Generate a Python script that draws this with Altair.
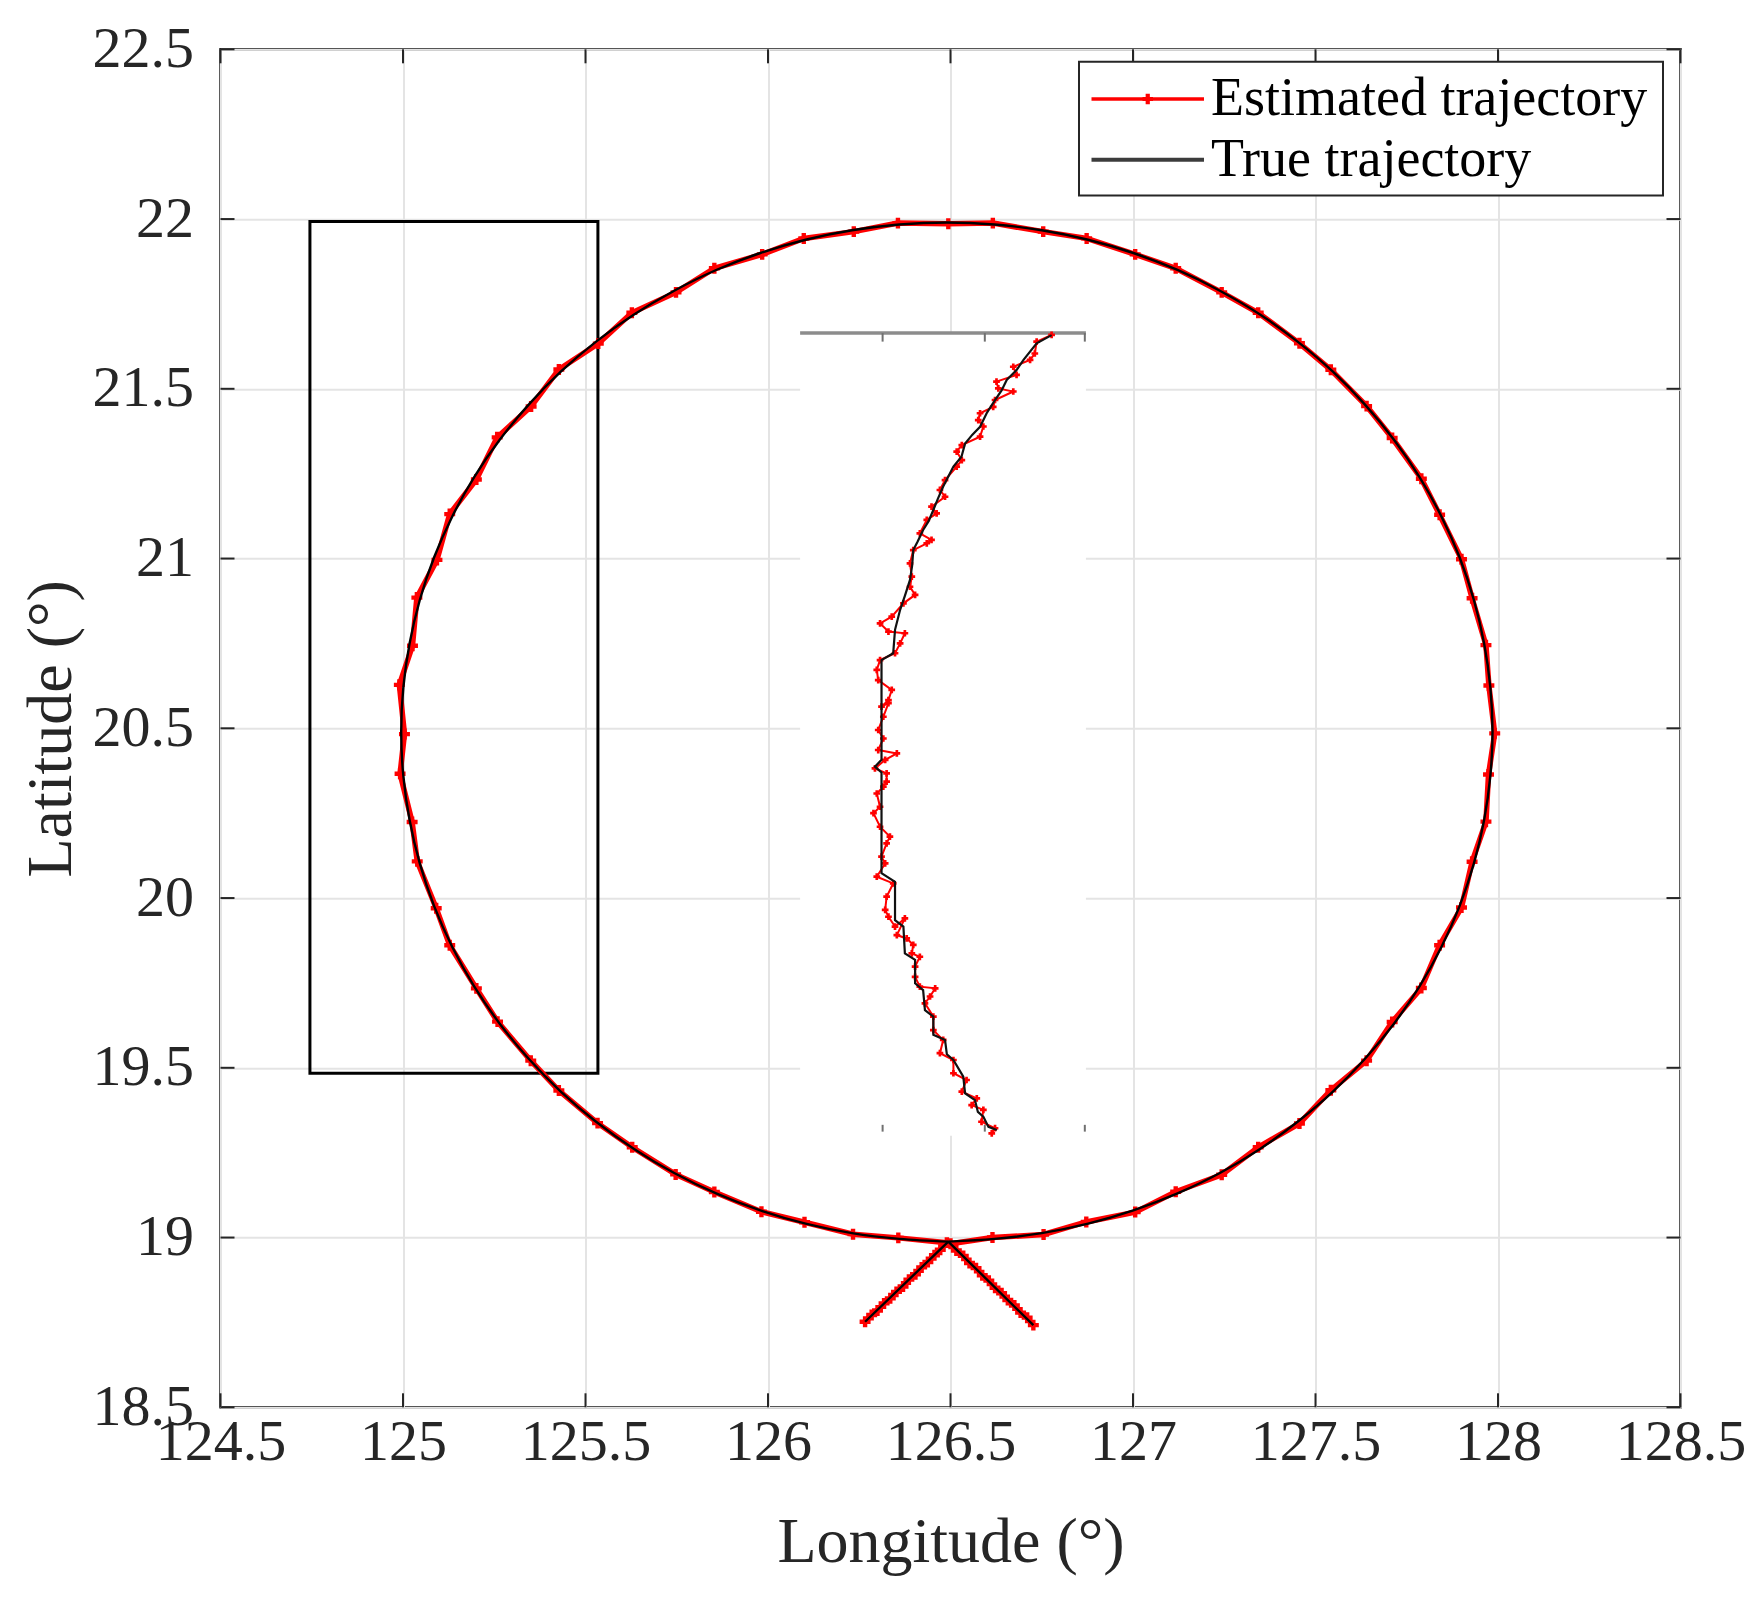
import altair as alt
import pandas as pd

FONT = "Liberation Serif"

# ---------------- data ----------------
x_ticks = [124.5, 125, 125.5, 126, 126.5, 127, 127.5, 128, 128.5]
y_ticks = [18.5, 19, 19.5, 20, 20.5, 21, 21.5, 22, 22.5]

series_names = ["Estimated trajectory", "True trajectory"]

true_lon = [126.266, 126.494,
            126.360, 126.230, 126.103, 125.979, 125.858, 125.743, 125.633, 125.529, 125.433,
            125.345, 125.265, 125.195, 125.135, 125.085, 125.046, 125.018, 125.001, 124.995,
            125.001, 125.018, 125.046, 125.085, 125.135, 125.195, 125.265, 125.345, 125.433,
            125.529, 125.633, 125.743, 125.858, 125.979, 126.103, 126.230, 126.360, 126.490,
            126.620, 126.750, 126.877, 127.001, 127.122, 127.238, 127.348, 127.451, 127.547,
            127.635, 127.715, 127.785, 127.845, 127.895, 127.934, 127.962, 127.979, 127.985,
            127.979, 127.962, 127.934, 127.895, 127.845, 127.785, 127.715, 127.635, 127.547,
            127.451, 127.348, 127.238, 127.122, 127.001, 126.877, 126.750, 126.620,
            126.494, 126.727]
true_lat = [18.752, 18.988,
            18.996, 19.013, 19.041, 19.080, 19.130, 19.190, 19.261, 19.341, 19.429,
            19.526, 19.630, 19.740, 19.856, 19.977, 20.102, 20.230, 20.359, 20.490,
            20.621, 20.750, 20.878, 21.003, 21.124, 21.240, 21.350, 21.454, 21.551,
            21.639, 21.719, 21.789, 21.850, 21.900, 21.939, 21.967, 21.984, 21.990,
            21.984, 21.967, 21.939, 21.900, 21.850, 21.789, 21.719, 21.639, 21.551,
            21.454, 21.350, 21.240, 21.124, 21.003, 20.878, 20.750, 20.621, 20.490,
            20.359, 20.230, 20.102, 19.977, 19.856, 19.740, 19.630, 19.526, 19.429,
            19.341, 19.261, 19.190, 19.130, 19.080, 19.041, 19.013, 18.996,
            18.988, 18.742]

est_lon = [126.266, 126.284, 126.300, 126.318, 126.335, 126.352, 126.370, 126.386, 126.404,
           126.421, 126.438, 126.456, 126.472, 126.490,
           126.357, 126.233, 126.100, 125.982, 125.853, 125.747, 125.628, 125.533, 125.427,
           125.350, 125.259, 125.201, 125.128, 125.091, 125.039, 125.025, 124.992, 125.004,
           124.990, 125.026, 125.038, 125.093, 125.128, 125.201, 125.258, 125.351, 125.427,
           125.535, 125.627, 125.748, 125.853, 125.984, 126.098, 126.235, 126.356, 126.494,
           126.616, 126.754, 126.873, 127.006, 127.117, 127.243, 127.343, 127.456, 127.542,
           127.640, 127.710, 127.790, 127.840, 127.900, 127.929, 127.967, 127.975, 127.991,
           127.974, 127.967, 127.929, 127.900, 127.840, 127.790, 127.710, 127.640, 127.542,
           127.456, 127.343, 127.243, 127.117, 127.006, 126.872, 126.755, 126.615,
           126.500, 126.516, 126.535, 126.552, 126.570, 126.587, 126.605, 126.622, 126.640,
           126.657, 126.675, 126.692, 126.710, 126.727]
est_lat = [18.752, 18.772, 18.785, 18.806, 18.821, 18.840, 18.856, 18.876, 18.892,
           18.912, 18.928, 18.948, 18.964, 18.985,
           18.999, 19.010, 19.045, 19.076, 19.134, 19.186, 19.266, 19.337, 19.433,
           19.521, 19.636, 19.734, 19.861, 19.970, 20.108, 20.224, 20.366, 20.483,
           20.628, 20.743, 20.885, 20.996, 21.131, 21.233, 21.357, 21.448, 21.557,
           21.633, 21.724, 21.784, 21.855, 21.896, 21.943, 21.963, 21.988, 21.986,
           21.988, 21.963, 21.943, 21.896, 21.855, 21.784, 21.724, 21.634, 21.556,
           21.449, 21.355, 21.235, 21.129, 20.998, 20.883, 20.745, 20.626, 20.485,
           20.364, 20.225, 20.107, 19.972, 19.861, 19.735, 19.635, 19.521, 19.434,
           19.336, 19.266, 19.185, 19.135, 19.075, 19.046, 19.009, 19.000,
           18.982, 18.962, 18.946, 18.925, 18.910, 18.889, 18.873, 18.852, 18.836,
           18.816, 18.800, 18.779, 18.764, 18.742]

# zoom rectangle
rect_lon = [124.745, 125.534]
rect_lat = [19.484, 21.993]

# inset (drawn in the main plot's coordinates)
inset_lon = [126.088, 126.871]
inset_lat = [19.300, 21.664]
inset_tick_lon = [126.314, 126.594, 126.868]

inset_true_lon = [126.777, 126.736, 126.700, 126.681, 126.654, 126.640, 126.622, 126.600, 126.581,
                  126.560, 126.540, 126.530, 126.508, 126.480, 126.465, 126.453, 126.440, 126.425,
                  126.410, 126.398, 126.395, 126.389, 126.375, 126.362, 126.348, 126.343, 126.311,
                  126.311, 126.311, 126.293, 126.311, 126.311, 126.311, 126.348, 126.348, 126.371,
                  126.375, 126.403, 126.403, 126.425, 126.430, 126.453, 126.453, 126.485, 126.490,
                  126.508, 126.535, 126.540, 126.567, 126.575, 126.590, 126.604, 126.627]
inset_true_lat = [21.658, 21.634, 21.585, 21.555, 21.526, 21.495, 21.467, 21.430, 21.388,
                  21.365, 21.339, 21.300, 21.271, 21.212, 21.175, 21.143, 21.110, 21.084,
                  21.050, 21.025, 20.980, 20.937, 20.890, 20.849, 20.790, 20.721, 20.701,
                  20.554, 20.407, 20.387, 20.370, 20.289, 20.073, 20.048, 19.935, 19.916,
                  19.837, 19.818, 19.749, 19.729, 19.670, 19.651, 19.597, 19.582, 19.540,
                  19.523, 19.474, 19.425, 19.405, 19.370, 19.356, 19.326, 19.317]

inset_est_lon = [126.777, 126.736, 126.731, 126.718, 126.672, 126.681, 126.626, 126.631, 126.672,
                 126.622, 126.617, 126.581, 126.576, 126.590, 126.581, 126.531, 126.517, 126.531,
                 126.517, 126.485, 126.471, 126.485, 126.448, 126.462, 126.435, 126.416, 126.448,
                 126.435, 126.398, 126.389, 126.394, 126.389, 126.403, 126.371, 126.339, 126.307,
                 126.330, 126.375, 126.362, 126.348, 126.307, 126.298, 126.302, 126.339, 126.330,
                 126.311,
                 126.330, 126.316, 126.302, 126.316, 126.302, 126.353, 126.321, 126.293, 126.325,
                 126.325, 126.316, 126.298, 126.307, 126.289, 126.307, 126.334, 126.325, 126.311,
                 126.321, 126.298, 126.343, 126.325, 126.321, 126.330, 126.348, 126.375, 126.353,
                 126.380, 126.398, 126.394, 126.416, 126.403, 126.403, 126.416, 126.458, 126.444,
                 126.430, 126.453, 126.453, 126.480, 126.471, 126.508, 126.508, 126.544, 126.531,
                 126.572, 126.558, 126.590, 126.585, 126.622, 126.613]
inset_est_lat = [21.659, 21.639, 21.604, 21.585, 21.565, 21.541, 21.521, 21.501, 21.492,
                 21.467, 21.447, 21.428, 21.408, 21.389, 21.359, 21.334, 21.315, 21.290,
                 21.271, 21.231, 21.202, 21.182, 21.153, 21.133, 21.114, 21.074, 21.055,
                 21.045, 21.025, 20.986, 20.947, 20.917, 20.893, 20.868, 20.829, 20.809,
                 20.785, 20.780, 20.750, 20.721, 20.701, 20.672, 20.642, 20.613, 20.583,
                 20.564,
                 20.574, 20.534, 20.495, 20.470, 20.436, 20.426, 20.407, 20.382, 20.367,
                 20.343, 20.328, 20.308, 20.269, 20.250, 20.210, 20.181, 20.161, 20.122,
                 20.102, 20.063, 20.043, 20.004, 19.965, 19.945, 19.916, 19.940, 19.891,
                 19.881, 19.862, 19.837, 19.827, 19.798, 19.768, 19.739, 19.734, 19.710,
                 19.690, 19.651, 19.611, 19.582, 19.543, 19.523, 19.484, 19.464, 19.430,
                 19.410, 19.390, 19.376, 19.341, 19.322, 19.307]

# ---------------- tables ----------------
def path_df(lon, lat, name):
    return pd.DataFrame({"lon": lon, "lat": lat, "k": list(range(len(lon))), "series": name})

est_df = path_df(est_lon, est_lat, series_names[0])
# true path split into its entry leg, the loop, and its exit leg (legs meet at the apex)
n = len(true_lon)
true_df = pd.concat([
    path_df(true_lon[0:2], true_lat[0:2], "in"),
    path_df(true_lon[1:n - 1], true_lat[1:n - 1], "loop"),
    path_df(true_lon[n - 2:n], true_lat[n - 2:n], "out"),
], ignore_index=True)
inset_true_df = path_df(inset_true_lon, inset_true_lat, "inset true")
inset_est_df = path_df(inset_est_lon, inset_est_lat, "inset est")
rect_df = pd.DataFrame({"lon": [rect_lon[0]], "lon2": [rect_lon[1]],
                        "lat": [rect_lat[0]], "lat2": [rect_lat[1]]})
inset_df = pd.DataFrame({"lon": [inset_lon[0]], "lon2": [inset_lon[1]],
                         "lat": [inset_lat[0]], "lat2": [inset_lat[1]]})
TICK_LEN = 0.025
inset_top_ticks = pd.DataFrame({"lon": inset_tick_lon,
                                "lat": [inset_lat[1]] * 3,
                                "lat2": [inset_lat[1] - TICK_LEN] * 3})
inset_bot_ticks = pd.DataFrame({"lon": inset_tick_lon,
                                "lat": [inset_lat[0] + 0.012] * 3,
                                "lat2": [inset_lat[0] + 0.012 + 0.02] * 3})
xt_df = pd.DataFrame({"lon": x_ticks})
yt_df = pd.DataFrame({"lat": y_ticks})
leg_est_df = pd.DataFrame({"label": [series_names[0]]})
leg_true_df = pd.DataFrame({"label": [series_names[1]]})

W, H = 1460, 1358
TEXT = "#262626"

xs = alt.Scale(domain=[x_ticks[0], x_ticks[-1]], nice=False, zero=False)
ys = alt.Scale(domain=[y_ticks[0], y_ticks[-1]], nice=False, zero=False)

x_axis = alt.Axis(values=x_ticks, format="~g", grid=True, gridColor="#e4e4e4", gridWidth=2,
                  ticks=False, domain=False, labelFont=FONT, labelFontSize=58,
                  labelColor=TEXT, labelPadding=6, labelFlush=False, labelOverlap=False,
                  title="Longitude (°)", titleFont=FONT, titleFontSize=64,
                  titleFontWeight="normal", titleColor=TEXT, titleX=W / 2, titleY=154,
                  titleBaseline="alphabetic", titleAlign="center")
y_axis = alt.Axis(values=y_ticks, format="~g", grid=True, gridColor="#e4e4e4", gridWidth=2,
                  ticks=False, domain=False, labelFont=FONT, labelFontSize=58,
                  labelColor=TEXT, labelPadding=27, labelFlush=False, labelOverlap=False,
                  title="Latitude (°)", titleFont=FONT, titleFontSize=64,
                  titleFontWeight="normal", titleColor=TEXT, titleAngle=270,
                  titleX=-150, titleY=H / 2, titleBaseline="alphabetic", titleAlign="center")

def X(field="lon"):
    return alt.X(f"{field}:Q", scale=xs, axis=x_axis)

def Y(field="lat"):
    return alt.Y(f"{field}:Q", scale=ys, axis=y_axis)

# inset white background (hides grid)
inset_bg = alt.Chart(inset_df).mark_rect(fill="white", strokeWidth=0).encode(
    x=X(), x2="lon2:Q", y=Y(), y2="lat2:Q")

inset_top = alt.Chart(inset_df).mark_rule(color="#8c8c8c", strokeWidth=3.5).encode(
    x=X(), x2="lon2:Q", y=alt.Y("lat2:Q", scale=ys, axis=y_axis))
inset_t1 = alt.Chart(inset_top_ticks).mark_rule(color="#707070", strokeWidth=2).encode(
    x=X(), y=Y(), y2="lat2:Q")
inset_t2 = alt.Chart(inset_bot_ticks).mark_rule(color="#707070", strokeWidth=2).encode(
    x=X(), y=Y(), y2="lat2:Q")

inset_est_line = alt.Chart(inset_est_df).mark_line(color="#ff0000", strokeWidth=2).encode(
    x=X(), y=Y(), order="k:Q")
inset_est_pts = alt.Chart(inset_est_df).mark_point(
    shape="cross", filled=True, color="#ff0000", size=45, opacity=1).encode(x=X(), y=Y())
inset_true_line = alt.Chart(inset_true_df).mark_line(color="#111111", strokeWidth=2.2).encode(
    x=X(), y=Y(), order="k:Q")

box = alt.Chart(rect_df).mark_rect(filled=False, stroke="black", strokeWidth=3).encode(
    x=X(), x2="lon2:Q", y=Y(), y2="lat2:Q")

est_line = alt.Chart(est_df).mark_line(color="#ff0000", strokeWidth=5.5).encode(
    x=X(), y=Y(), order="k:Q")
markers = alt.Chart(est_df).mark_point(shape="cross", filled=True, color="#ff0000",
                                       size=120, opacity=1).encode(x=X(), y=Y())
true_line = alt.Chart(true_df).mark_line(color="black", strokeWidth=2.4,
                                         interpolate="catmull-rom").encode(
    x=X(), y=Y(), detail="series:N", order="k:Q")

# inward ticks on all four sides
TK = 14
tick_style = dict(color=TEXT, strokeWidth=2)
tb = alt.Chart(xt_df).mark_rule(**tick_style).encode(
    x=X(), y=alt.value(H), y2=alt.value(H - TK))
tt = alt.Chart(xt_df).mark_rule(**tick_style).encode(
    x=X(), y=alt.value(0), y2=alt.value(TK))
tl = alt.Chart(yt_df).mark_rule(**tick_style).encode(
    y=Y(), x=alt.value(0), x2=alt.value(TK))
tr = alt.Chart(yt_df).mark_rule(**tick_style).encode(
    y=Y(), x=alt.value(W), x2=alt.value(W - TK))

# legend (drawn as marks, pixel positions inside the plot area)
LX0, LX1, LY0, LY1 = 858.5, 1442.5, 12.5, 146.2
R1, R2 = 49.7, 110.5
SX0, SX1 = 871, 983.5
leg_box = alt.Chart(leg_est_df).mark_rect(fill="white", stroke=TEXT, strokeWidth=2).encode(
    x=alt.value(LX0), x2=alt.value(LX1), y=alt.value(LY0), y2=alt.value(LY1))
leg_l1 = alt.Chart(leg_est_df).mark_rule(color="#ff0000", strokeWidth=3.5).encode(
    x=alt.value(SX0), x2=alt.value(SX1), y=alt.value(R1))
leg_m1 = alt.Chart(leg_est_df).mark_point(shape="cross", filled=True, color="#ff0000",
                                          size=110, opacity=1).encode(
    x=alt.value((SX0 + SX1) / 2), y=alt.value(R1))
leg_l2 = alt.Chart(leg_true_df).mark_rule(color="#3c3c3c", strokeWidth=4).encode(
    x=alt.value(SX0), x2=alt.value(SX1), y=alt.value(R2))
text_style = dict(font=FONT, fontSize=54, color="black", align="left", baseline="middle")
leg_t1 = alt.Chart(leg_est_df).mark_text(**text_style).encode(
    text="label:N", x=alt.value(990.5), y=alt.value(R1))
leg_t2 = alt.Chart(leg_true_df).mark_text(**text_style).encode(
    text="label:N", x=alt.value(990.5), y=alt.value(R2))

chart = alt.layer(
    inset_bg, box, inset_top, inset_t1, inset_t2,
    inset_est_line, inset_est_pts, inset_true_line,
    est_line, markers, true_line,
    tb, tt, tl, tr,
    leg_box, leg_l1, leg_m1, leg_l2, leg_t1, leg_t2
).properties(
    width=W, height=H,
    autosize=alt.AutoSizeParams(type="none"),
    padding={"left": 212.5, "top": 41.3, "right": 70, "bottom": 180},
    background="white",
).configure_view(stroke=TEXT, strokeWidth=2.5)

chart.save("out.html", embed_options={"renderer": "svg", "actions": False})
